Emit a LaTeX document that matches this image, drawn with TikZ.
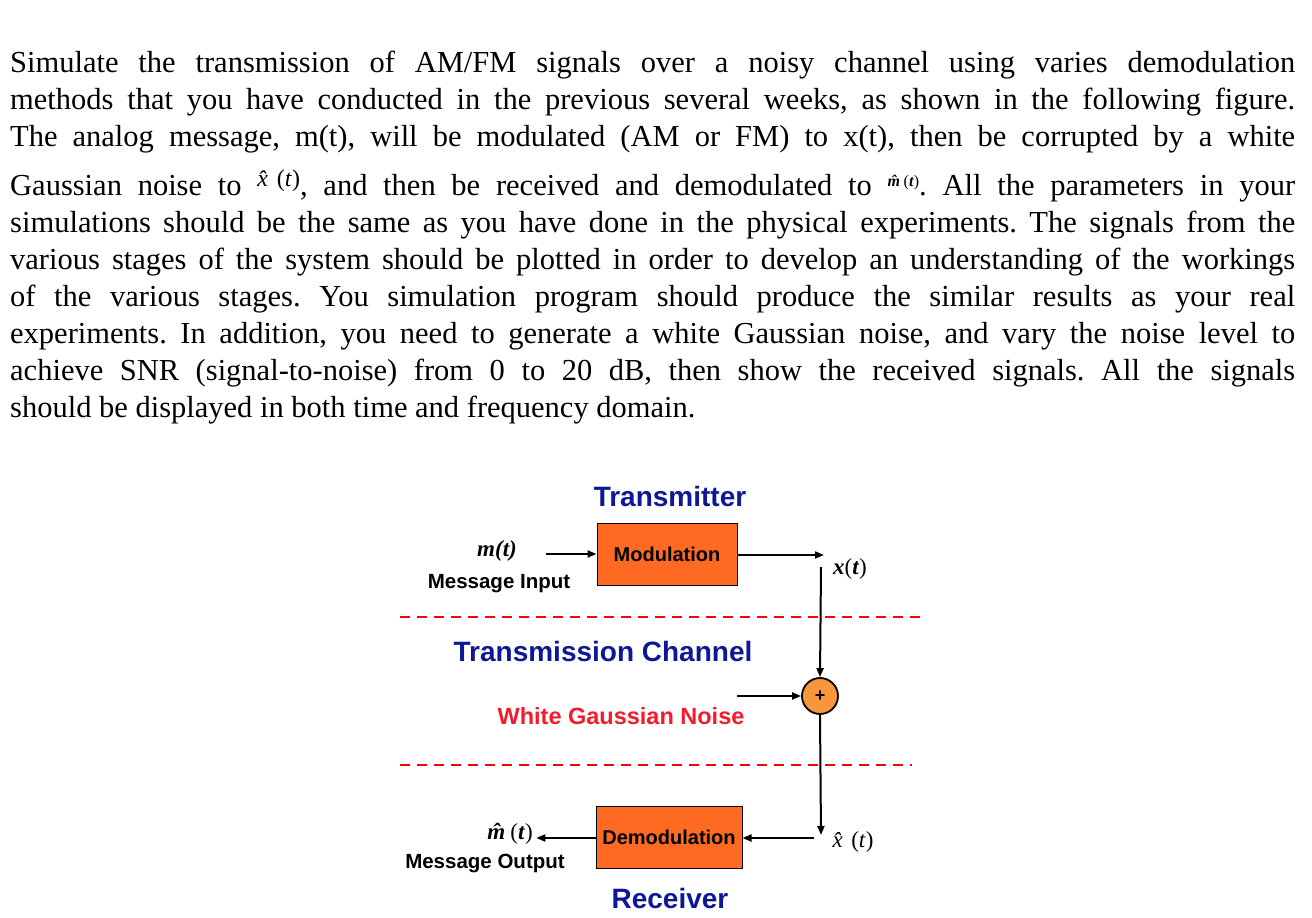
\documentclass[tikz,border=0pt]{standalone}
\usepackage{fontspec}
\usepackage{amsmath}
\setmainfont{Liberation Serif}
\newfontfamily\diagsans{Liberation Sans}
\usetikzlibrary{arrows.meta,positioning}
\definecolor{blockorange}{HTML}{FF6A22}
\definecolor{sumorange}{HTML}{F8963C}
\definecolor{titleblue}{HTML}{0E1896}
\definecolor{noisered}{HTML}{F41C2C}
\tikzset{
    semithick,
    block/.style={draw, fill=blockorange, line width=1pt, minimum width=146pt, minimum height=62pt, inner sep=0pt, font=\diagsans\bfseries\fontsize{20}{24}\selectfont},
    heading/.style={text=titleblue, font=\diagsans\bfseries\fontsize{28}{32}\selectfont},
    label/.style={font=\diagsans\bfseries\fontsize{20.5}{24}\selectfont},
    sig/.style={font=\fontsize{23}{26}\selectfont},
    flow/.style={-{Triangle[length=9pt,width=7pt]}, line width=2pt},
    border/.style={red, dashed, dash pattern=on 10pt off 7pt, line width=1.4pt}
}
\begin{document}
\begin{tikzpicture}[x=1pt,y=-1pt]
\useasboundingbox (0,0) rectangle (1312,918);
% Text above the figure
\node[anchor=north west, inner sep=0pt, text width=1285pt, align=justify,
      font=\fontsize{30.5}{37}\selectfont\frenchspacing] (task) at (10,51)
{Simulate the transmission of AM/FM signals over a noisy channel using varies demodulation\linebreak
methods that you have conducted in the previous several weeks, as shown in the following figure.\linebreak
The analog message, m(t), will be modulated (AM or FM) to x(t), then be corrupted by a white\linebreak
Gaussian noise to \raisebox{9pt}{\fontsize{24}{24}\selectfont\textit{x̂}(\textit{t})\rule{0pt}{32pt}}, and then be received and demodulated to \raisebox{9pt}{\fontsize{16}{16}\selectfont\textbf{\textit{m̂}}(\textbf{\textit{t}})}. All the parameters in your\linebreak
simulations should be the same as you have done in the physical experiments. The signals from the\linebreak
various stages of the system should be plotted in order to develop an understanding of the workings\linebreak
of the various stages. You simulation program should produce the similar results as your real\linebreak
experiments. In addition, you need to generate a white Gaussian noise, and vary the noise level to\linebreak
achieve SNR (signal-to-noise) from 0 to 20 dB, then show the received signals. All the signals\linebreak
should be displayed in both time and frequency domain.\par};

% Nodes
\node[heading] (tx) at (670,496) {Transmitter};
\node[block, minimum width=140pt] (mod) at (667,554) {Modulation};
\node[sig] (msg) at (497,551) {\textbf{\textit{m(t)}}};
\node[label] (msgin) at (499,584) {Message Input};
\node[sig] (xt) at (850,569) {\textbf{\textit{x}}(\textbf{\textit{t}})};
\node[heading] (chan) at (603,651) {Transmission Channel};
\node[draw, circle, fill=sumorange, line width=1.8pt, minimum size=36pt, inner sep=0pt,
      font=\diagsans\bfseries\fontsize{18}{18}\selectfont] (sum) at (820,696) {+};
\node[label, text=noisered, font=\diagsans\bfseries\fontsize{23.5}{28}\selectfont] (noise) at (621,716) {White Gaussian Noise};
\node[block] (demod) at (669,837) {Demodulation};
\node[sig] (mhat) at (510,834) {\textbf{\textit{m̂}}(\textbf{\textit{t}})};
\node[label] (msgout) at (485,864) {Message Output};
\node[sig] (xhat) at (853,842) {\textit{x̂}(\textit{t})};
\node[heading] (rx) at (670,898) {Receiver};

% Coordinates
\coordinate (xend) at (824,555);
\coordinate (xtop) at (821,567);
\coordinate (nstart) at (737,696);
\coordinate (xhend) at (821,835);
\coordinate (xhstart) at (814,838);
\coordinate (minstart) at (546,554);

% Arrows
\draw[flow] (minstart) -- (mod.west);
\draw[flow] (mod.east |- xend) -- (xend);
\draw[flow] (xtop) -- (sum.north);
\draw[flow] (nstart) -- (sum.west);
\draw[flow] (sum.south) -- (xhend);
\draw[flow] (xhstart) -- (demod.east |- xhstart);
\draw[flow] (demod.west |- xhstart) -- (mhat.east |- xhstart);

% Section borders
\draw[border] (400,617) -- (925,617);
\draw[border] (400,765) -- (912,765);
\end{tikzpicture}
\end{document}
